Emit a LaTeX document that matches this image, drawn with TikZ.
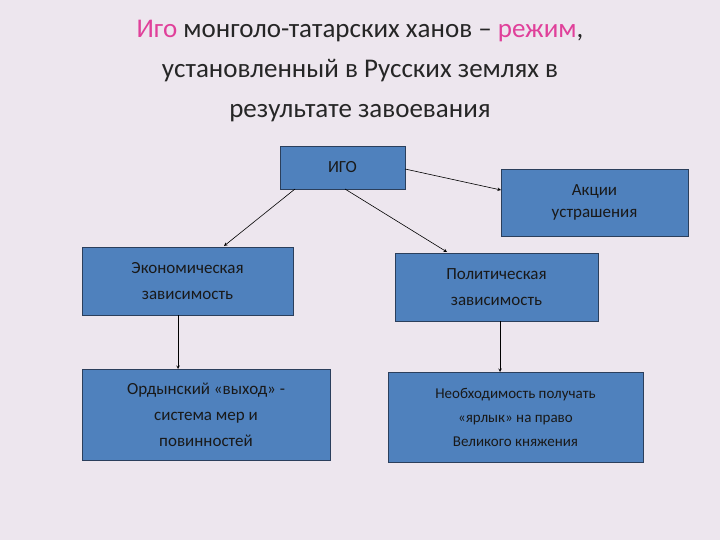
\documentclass[tikz,border=0pt]{standalone}
\usepackage{fontspec}
\setmainfont{Carlito}
\definecolor{bg}{HTML}{EDE6EE}
\definecolor{boxf}{HTML}{4F81BD}
\definecolor{boxd}{HTML}{2B3F5C}
\definecolor{mag}{HTML}{E0409A}
\begin{document}
\begin{tikzpicture}[x=1pt,y=-1pt,
  bx/.style={draw=boxd,line width=0.9pt,fill=boxf,text=black!90,align=center,inner sep=0pt},
  ar/.style={-stealth,line width=0.6pt}]
\fill[bg] (0,0) rectangle (720,540);
\useasboundingbox (0,0) rectangle (720,540);
\node[font=\fontsize{27}{40}\selectfont,align=center,text=black!85] (t) at (360,71)
 {\textcolor{mag}{Иго} монголо-татарских ханов – \textcolor{mag}{режим},\\установленный в Русских землях в\\результате завоевания};
\node[bx,minimum width=125,minimum height=43,font=\fontsize{17}{20}\selectfont] (igo) at (342.5,167.5) {ИГО};
\node[bx,minimum width=187,minimum height=67,font=\fontsize{17}{22}\selectfont] (ak) at (594.5,202.5) {Акции\\устрашения};
\node[bx,minimum width=211,minimum height=68,font=\fontsize{17}{26}\selectfont] (ek) at (187.5,281) {Экономическая\\зависимость};
\node[bx,minimum width=203,minimum height=68,font=\fontsize{17}{26}\selectfont] (po) at (496.5,287) {Политическая\\зависимость};
\node[bx,minimum width=248,minimum height=91,font=\fontsize{17}{26}\selectfont] (or) at (206,414.5) {Ордынский «выход» -\\система мер и\\повинностей};
\node[bx,minimum width=255,minimum height=90,font=\fontsize{15}{24}\selectfont] (ne) at (515.5,417) {Необходимость получать\\«ярлык» на право\\Великого княжения};
\draw[ar] (295,189) -- (224,246);
\draw[ar] (345,189) -- (447,252);
\draw[ar] (405,169) -- (501,190);
\draw[ar] (178,315) -- (178,369);
\draw[ar] (500,321) -- (500,372);
\end{tikzpicture}
\end{document}
